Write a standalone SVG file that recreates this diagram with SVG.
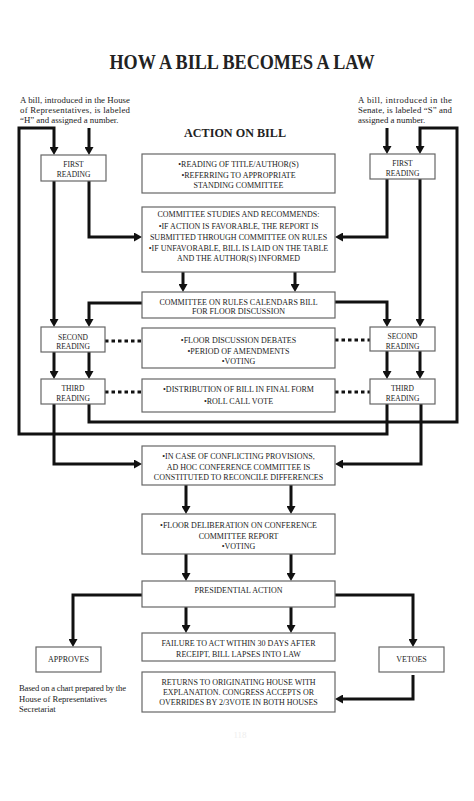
<svg xmlns="http://www.w3.org/2000/svg" width="474" height="801" viewBox="0 0 474 801">
<defs>
<marker id="ah" viewBox="0 0 8 9" refX="0" refY="4.5" markerWidth="8" markerHeight="9" markerUnits="userSpaceOnUse" orient="auto">
<path d="M0,0 L8,4.5 L0,9 z" fill="#111"/>
</marker>
<style>
.t{font-family:"Liberation Serif","Times New Roman",serif;fill:#222;}
.bx{fill:#fff;stroke:#666;stroke-width:1.2;}
.c{font-size:8px;text-anchor:middle;}
.r{font-size:7.5px;text-anchor:middle;}
.n{font-size:8.8px;}
.ln{fill:none;stroke:#111;stroke-width:3;}
.ar{fill:none;stroke:#111;stroke-width:3;marker-end:url(#ah);}
.dt{fill:none;stroke:#111;stroke-width:3;stroke-dasharray:3.5,3;}
</style>
</defs>
<rect width="474" height="801" fill="#fff"/>

<g id="title">
<text class="t" x="242" y="69" font-size="20" font-weight="bold" text-anchor="middle" textLength="265" lengthAdjust="spacingAndGlyphs">HOW A BILL BECOMES A LAW</text>
<text class="t" x="235" y="137" font-size="12" font-weight="bold" text-anchor="middle" textLength="102" lengthAdjust="spacingAndGlyphs">ACTION ON BILL</text>
</g>

<g id="house-note">
<text class="t n" x="20" y="102.5" textLength="110">A bill, introduced in the House</text>
<text class="t n" x="20" y="112.5" textLength="110">of Representatives, is labeled</text>
<text class="t n" x="20" y="122.5">“H” and assigned a number.</text>
</g>
<g id="senate-note">
<text class="t n" x="358" y="102.5" textLength="94">A bill, introduced in the</text>
<text class="t n" x="358" y="112.5" textLength="94">Senate, is labeled “S” and</text>
<text class="t n" x="358" y="122.5">assigned a number.</text>
</g>

<g id="connectors">
<path class="ar" d="M387,404 V434 H19 V128 H54 V147"/>
<path class="ar" d="M89,128 V147"/>
<path class="ar" d="M387,128 V146"/>
<path class="ar" d="M89,404 V422 H457 V128 H420 V146"/>
<path class="ar" d="M89,181 V237 H134"/>
<path class="ar" d="M387,179 V237 H343"/>
<path class="ar" d="M54,181 V319"/>
<path class="ar" d="M420,179 V319"/>
<path class="ar" d="M183,272 V284"/>
<path class="ar" d="M295,272 V284"/>
<path class="ar" d="M142,303 H89 V319"/>
<path class="ar" d="M335,302 H387 V319"/>
<path class="ar" d="M54,352 V371"/>
<path class="ar" d="M89,352 V371"/>
<path class="ar" d="M387,351 V371"/>
<path class="ar" d="M420,351 V371"/>
<path class="dt" d="M105,341 H142"/>
<path class="dt" d="M335,340 H370"/>
<path class="dt" d="M105,392 H142"/>
<path class="dt" d="M335,392 H370"/>
<path class="ar" d="M54,404 V464 H134"/>
<path class="ar" d="M421,404 V464 H343"/>
<path class="ar" d="M186,485 V506"/>
<path class="ar" d="M291,485 V506"/>
<path class="ar" d="M186,554 V573"/>
<path class="ar" d="M291,554 V573"/>
<path class="ar" d="M142,595 H73 V639"/>
<path class="ar" d="M335,595 H413 V639"/>
<path class="ar" d="M186,607 V625"/>
<path class="ar" d="M291,607 V625"/>
<path class="ar" d="M413,675 V699 H343"/>
</g>

<g id="first-reading-h">
<rect class="bx" x="41" y="155" width="65" height="26"/>
<text class="t r" x="73.5" y="167">FIRST</text>
<text class="t r" x="73.5" y="176.5">READING</text>
</g>
<g id="first-reading-s">
<rect class="bx" x="370" y="154" width="65" height="25"/>
<text class="t r" x="402.5" y="166">FIRST</text>
<text class="t r" x="402.5" y="175.5">READING</text>
</g>
<g id="second-reading-h">
<rect class="bx" x="41" y="327" width="64" height="25"/>
<text class="t r" x="73" y="339.5">SECOND</text>
<text class="t r" x="73" y="349">READING</text>
</g>
<g id="second-reading-s">
<rect class="bx" x="370" y="327" width="65" height="24"/>
<text class="t r" x="402.5" y="339">SECOND</text>
<text class="t r" x="402.5" y="348.5">READING</text>
</g>
<g id="third-reading-h">
<rect class="bx" x="41" y="379" width="64" height="25"/>
<text class="t r" x="73" y="391">THIRD</text>
<text class="t r" x="73" y="400.5">READING</text>
</g>
<g id="third-reading-s">
<rect class="bx" x="370" y="379" width="65" height="25"/>
<text class="t r" x="402.5" y="391">THIRD</text>
<text class="t r" x="402.5" y="400.5">READING</text>
</g>

<g id="reading-title">
<rect class="bx" x="142" y="154" width="193" height="39"/>
<text class="t c" x="238.5" y="167">•READING OF TITLE/AUTHOR(S)</text>
<text class="t c" x="238.5" y="177.5">•REFERRING TO APPROPRIATE</text>
<text class="t c" x="238.5" y="188">STANDING COMMITTEE</text>
</g>
<g id="committee-studies">
<rect class="bx" x="142" y="207" width="193" height="65"/>
<text class="t c" x="238.5" y="217">COMMITTEE STUDIES AND RECOMMENDS:</text>
<text class="t c" x="238.5" y="228.5">•IF ACTION IS FAVORABLE, THE REPORT IS</text>
<text class="t c" x="238.5" y="239.5">SUBMITTED THROUGH COMMITTEE ON RULES</text>
<text class="t c" x="238.5" y="250.5">•IF UNFAVORABLE, BILL IS LAID ON THE TABLE</text>
<text class="t c" x="238.5" y="261">AND THE AUTHOR(S) INFORMED</text>
</g>
<g id="rules-committee">
<rect class="bx" x="142" y="292" width="193" height="26"/>
<text class="t c" x="238.5" y="304.5">COMMITTEE ON RULES CALENDARS BILL</text>
<text class="t c" x="238.5" y="314">FOR FLOOR DISCUSSION</text>
</g>
<g id="floor-discussion">
<rect class="bx" x="142" y="328" width="193" height="40"/>
<text class="t c" x="238.5" y="343">•FLOOR DISCUSSION DEBATES</text>
<text class="t c" x="238.5" y="353.5">•PERIOD OF AMENDMENTS</text>
<text class="t c" x="238.5" y="364">•VOTING</text>
</g>
<g id="distribution">
<rect class="bx" x="142" y="379" width="193" height="33"/>
<text class="t c" x="238.5" y="392">•DISTRIBUTION OF BILL IN FINAL FORM</text>
<text class="t c" x="238.5" y="404">•ROLL CALL VOTE</text>
</g>
<g id="conference">
<rect class="bx" x="142" y="446" width="193" height="39"/>
<text class="t c" x="238.5" y="459">•IN CASE OF CONFLICTING PROVISIONS,</text>
<text class="t c" x="238.5" y="469.5">AD HOC CONFERENCE COMMITTEE IS</text>
<text class="t c" x="238.5" y="479.5">CONSTITUTED TO RECONCILE DIFFERENCES</text>
</g>
<g id="floor-deliberation">
<rect class="bx" x="142" y="514" width="193" height="40"/>
<text class="t c" x="238.5" y="528">•FLOOR DELIBERATION ON CONFERENCE</text>
<text class="t c" x="238.5" y="538.5">COMMITTEE REPORT</text>
<text class="t c" x="238.5" y="549">•VOTING</text>
</g>
<g id="presidential-action">
<rect class="bx" x="142" y="581" width="193" height="26"/>
<text class="t c" x="238.5" y="593">PRESIDENTIAL ACTION</text>
</g>
<g id="failure-to-act">
<rect class="bx" x="142" y="633" width="193" height="28"/>
<text class="t c" x="238.5" y="646">FAILURE TO ACT WITHIN 30 DAYS AFTER</text>
<text class="t c" x="238.5" y="656.5">RECEIPT, BILL LAPSES INTO LAW</text>
</g>
<g id="approves">
<rect class="bx" x="36" y="647" width="65" height="25"/>
<text class="t c" x="68.5" y="662">APPROVES</text>
</g>
<g id="vetoes">
<rect class="bx" x="379" y="647" width="65" height="25"/>
<text class="t c" x="411.5" y="662">VETOES</text>
</g>
<g id="returns">
<rect class="bx" x="142" y="672" width="193" height="40"/>
<text class="t c" x="238.5" y="684.5">RETURNS TO ORIGINATING HOUSE WITH</text>
<text class="t c" x="238.5" y="694.5">EXPLANATION. CONGRESS ACCEPTS OR</text>
<text class="t c" x="238.5" y="705">OVERRIDES BY 2/3VOTE IN BOTH HOUSES</text>
</g>

<g id="footnote">
<text class="t" x="19" y="691" font-size="8.6" textLength="107">Based on a chart prepared by the</text>
<text class="t" x="19" y="701.5" font-size="8.6">House of Representatives</text>
<text class="t" x="19" y="712" font-size="8.6">Secretariat</text>
<text class="t" x="240" y="738" font-size="9" text-anchor="middle" style="fill:#eeeeee">118</text>
</g>
</svg>
